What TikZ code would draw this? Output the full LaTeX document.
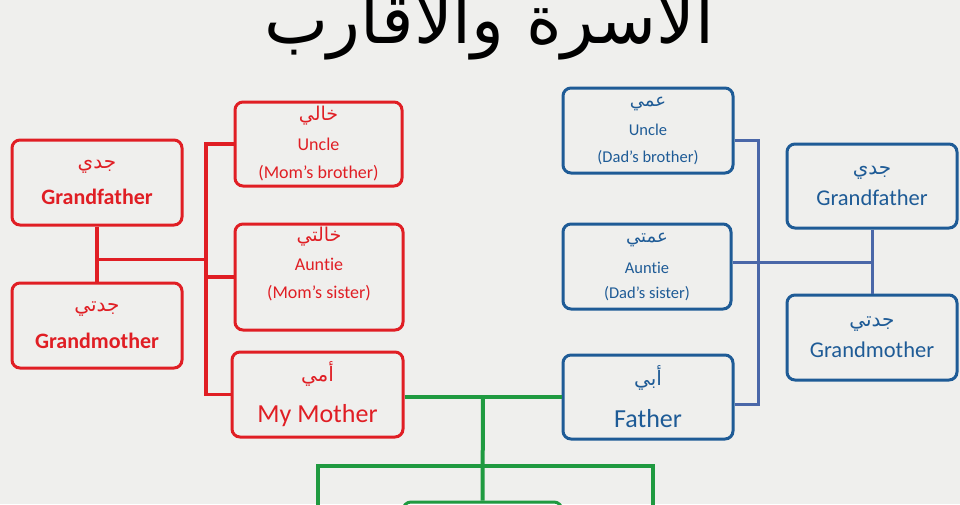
\documentclass[tikz,border=0pt]{standalone}
\usepackage{fontspec}
\usepackage{xcolor}
\setmainfont{Carlito}[Ligatures=NoCommon]
\newfontfamily\arabicfont[Script=Arabic]{DejaVu Sans}
\TeXXeTstate=1
\usetikzlibrary{positioning}
\definecolor{famred}{HTML}{E01E24}
\definecolor{famblue}{HTML}{1E5B96}
\definecolor{famline}{HTML}{4A67A8}
\definecolor{famgreen}{HTML}{1F9A40}
\definecolor{fambg}{HTML}{EFEFED}
\newcommand\artxt[2]{{\fontsize{#1}{#1}\arabicfont\mdseries\beginR #2\endR}}

\begin{document}
\begin{tikzpicture}[x=1pt, y=-1pt,
		redbox/.style={draw=famred, line width=3pt, rounded corners=8pt, text=famred, align=center,
			minimum width=170pt, minimum height=85pt, inner sep=0pt},
		bluebox/.style={redbox, draw=famblue, text=famblue},
		redline/.style={draw=famred, line width=3.5pt},
		blueline/.style={draw=famline, line width=3pt},
		greenline/.style={draw=famgreen, line width=4pt}]
		\fill[fambg] (0,0) rectangle (960,504);
		\useasboundingbox (0,0) rectangle (960,504);
		\node[anchor=base, font=\fontsize{68}{68}\arabicfont] (title) at (489,43) {\beginR الأسرة والأقارب\endR};
		% mother's side
		\node[redbox, font=\fontsize{22}{36}\selectfont\bfseries] (rgf) at (97,182.5) {\artxt{20}{جدي}\\Grandfather};
		\node[redbox, font=\fontsize{22}{37}\selectfont\bfseries] (rgm) at (97,325.5) {\artxt{20}{جدتي}\\Grandmother};
		\node[redbox, minimum width=167pt, minimum height=84pt, font=\fontsize{18}{28}\selectfont] (runcle) at (318.5,144) {\artxt{19}{خالي}\\[2pt]Uncle\\(Mom’s brother)};
		\node[redbox, minimum width=168pt, minimum height=106pt, font=\fontsize{18}{28}\selectfont] (rauntie) at (319,277) {\artxt{19}{خالتي}\\[1pt]Auntie\\(Mom’s sister)\\\mbox{}};
		\node[redbox, minimum width=171pt, font=\fontsize{26}{41}\selectfont] (rmother) at (317.5,394.5) {\artxt{20}{أمي}\\My Mother};
		% father's side
		\node[bluebox, font=\fontsize{16.5}{27}\selectfont] (buncle) at (648,130.5) {\artxt{18}{عمي}\\[2pt]Uncle\\(Dad’s brother)};
		\node[bluebox, minimum width=168pt, font=\fontsize{16.5}{25}\selectfont] (bauntie) at (647,266.5) {\artxt{18}{عمتي}\\[6pt]Auntie\\(Dad’s sister)};
		\node[bluebox, minimum height=84pt, font=\fontsize{26}{42}\selectfont] (bfather) at (648,397) {\artxt{20}{أبي}\\Father};
		\node[bluebox, minimum height=84pt, font=\fontsize{22.5}{31}\selectfont] (bgf) at (872,186) {\artxt{20}{جدي}\\Grandfather};
		\node[bluebox, font=\fontsize{22.5}{31}\selectfont] (bgm) at (872,337.5) {\artxt{20}{جدتي}\\Grandmother};
		% children
		\node[draw=famgreen, line width=3pt, rounded corners=8pt, minimum width=159pt, minimum height=80pt] (kidc) at (482.5,542) {};
		% buses
		\coordinate (rbus) at (206,0);
		\coordinate (bbus) at (758,0);
		\coordinate (kbar) at (0,466);
		\coordinate (kidl) at (318,510);
		\coordinate (kidr) at (653,510);
		\coordinate (bu-out) at ([yshift=-10pt]buncle.east);
		\coordinate (ba-out) at ([yshift=4pt]bauntie.east);
		\coordinate (bf-in) at ([yshift=-7pt]bfather.east);
		\draw[redline] (runcle.west) -| (rbus |- rmother.west) -- (rmother.west);
		\draw[redline] (rauntie.west) -- (rauntie.west -| rbus);
		\draw[redline] (rgf.south) -- (rgm.north) coordinate[pos=0.6] (rjoin);
		\draw[redline] (rjoin) -- (rjoin -| rbus);
		\draw[blueline] (bu-out) -| (bbus |- bf-in) -- (bf-in);
		\draw[blueline] (ba-out) -- (ba-out -| bgf.south);
		\draw[blueline] (bgf.south) -- (bgm.north);
		\draw[greenline] (rmother.east |- bfather.west) -- (bfather.west) coordinate[pos=0.5] (gjoin);
		\draw[greenline] (gjoin) -- (kidc.north);
		\draw[greenline] (kidl) |- (kbar -| kidr) -- (kidr);
	\end{tikzpicture}
\end{document}
